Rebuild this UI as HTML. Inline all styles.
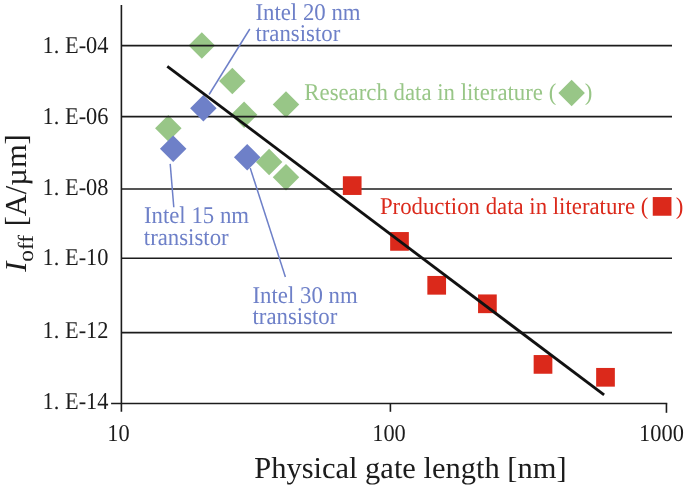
<!DOCTYPE html>
<html><head><meta charset="utf-8"><title>Ioff vs physical gate length</title>
<style>
html,body{margin:0;padding:0;background:#fff;}
svg{display:block;}
text{font-family:"Liberation Serif",serif;text-rendering:geometricPrecision;}
</style></head>
<body>
<svg width="685" height="487" viewBox="0 0 685 487">
<rect width="685" height="487" fill="#fff"/>
<g fill="#98c687">
<path d="M201.8,32.25 L215.05,45.5 L201.8,58.75 L188.55,45.5Z"/>
<path d="M232.3,67.75 L245.55,81.0 L232.3,94.25 L219.05,81.0Z"/>
<path d="M244.1,101.55 L257.35,114.8 L244.1,128.05 L230.85,114.8Z"/>
<path d="M286.0,91.35 L299.25,104.6 L286.0,117.85 L272.75,104.6Z"/>
<path d="M168.3,114.95 L181.55,128.2 L168.3,141.45 L155.05,128.2Z"/>
<path d="M269.1,148.65 L282.35,161.9 L269.1,175.15 L255.85,161.9Z"/>
<path d="M286.0,163.95 L299.25,177.2 L286.0,190.45 L272.75,177.2Z"/>
<path d="M571.6,79.75 L584.85,93.0 L571.6,106.25 L558.35,93.0Z"/>
</g>
<g stroke="#1c1c1c" stroke-width="1.6" fill="none">
<line x1="121.4" y1="45.65" x2="672" y2="45.65"/>
<line x1="121.4" y1="116.65" x2="672" y2="116.65"/>
<line x1="121.4" y1="189.0" x2="672" y2="189.0" stroke-width="1.7"/>
<line x1="121.4" y1="258.3" x2="672" y2="258.3"/>
<line x1="121.4" y1="332.65" x2="672" y2="332.65"/>
<line x1="111.1" y1="403.5" x2="667.25" y2="403.5"/>
<line x1="121.4" y1="5.1" x2="121.4" y2="411.8"/>
<line x1="390.4" y1="403.5" x2="390.4" y2="411.8"/>
<line x1="666.45" y1="403.5" x2="666.45" y2="412.8"/>
</g>
<g fill="#1c1c1c">
<text transform="translate(42.6,52.95) scale(0.925,1)" font-size="24.2">1. E-04</text>
<text transform="translate(42.6,123.7) scale(0.925,1)" font-size="24.2">1. E-06</text>
<text transform="translate(42.6,194.9) scale(0.925,1)" font-size="24.2">1. E-08</text>
<text transform="translate(42.6,264.85) scale(0.925,1)" font-size="24.2">1. E-10</text>
<text transform="translate(42.6,337.9) scale(0.925,1)" font-size="24.2">1. E-12</text>
<text transform="translate(42.6,408.65) scale(0.925,1)" font-size="24.2">1. E-14</text>
<text transform="translate(107.2,440.8) scale(0.925,1)" font-size="24.2">10</text>
<text transform="translate(372.2,440.8) scale(0.925,1)" font-size="24.2">100</text>
<text transform="translate(639.1,440.8) scale(0.925,1)" font-size="24.2">1000</text>
<text transform="translate(254.2,477.8) scale(1.003,1)" font-size="30.4">Physical gate length [nm]</text>
<g transform="translate(25.8,275) rotate(-90)">
<text transform="translate(3.2,0) scale(1.003,1)" font-size="30.4" font-style="italic">I</text>
<text transform="translate(13.3,7) scale(1.068,1)" font-size="21.8">off</text>
<text transform="translate(48.7,0) scale(1.003,1)" font-size="30.4">[A/µm]</text>
</g>
</g>
<g stroke="#6e80c8" stroke-width="1.5">
<line x1="249.8" y1="29" x2="209.1" y2="94.5"/>
<line x1="170.2" y1="163.9" x2="173.8" y2="207.3"/>
<line x1="250.2" y1="168" x2="285.4" y2="277"/>
</g>
<g fill="#6e80c8">
<path d="M203.4,94.95 L216.65,108.2 L203.4,121.45 L190.15,108.2Z"/>
<path d="M173.2,135.55 L186.45,148.8 L173.2,162.05 L159.95,148.8Z"/>
<path d="M247.2,143.95 L260.45,157.2 L247.2,170.45 L233.95,157.2Z"/>
</g>
<g fill="#db291b">
<rect x="342.85" y="176.25" width="18.7" height="18.7"/>
<rect x="390.15" y="232.05" width="18.7" height="18.7"/>
<rect x="427.35" y="275.95" width="18.7" height="18.7"/>
<rect x="478.05" y="294.45" width="18.7" height="18.7"/>
<rect x="533.65" y="355.05" width="18.7" height="18.7"/>
<rect x="596.15" y="367.95" width="18.7" height="18.7"/>
<rect x="652.75" y="197.05" width="18.7" height="18.7"/>
</g>
<line x1="167.3" y1="66.3" x2="604.1" y2="394.9" stroke="#111" stroke-width="2.85"/>
<g fill="#6e80c8">
<text transform="translate(255.4,19.9) scale(0.95,1)" font-size="24.0">Intel 20 nm</text>
<text transform="translate(255.4,41.3) scale(0.95,1)" font-size="24.0">transistor</text>
<text transform="translate(143.9,223.2) scale(0.95,1)" font-size="24.0">Intel 15 nm</text>
<text transform="translate(143.8,245.1) scale(0.95,1)" font-size="24.0">transistor</text>
<text transform="translate(252.5,303.1) scale(0.95,1)" font-size="24.0">Intel 30 nm</text>
<text transform="translate(252.5,324.1) scale(0.95,1)" font-size="24.0">transistor</text>
</g>
<g fill="#98c687">
<text transform="translate(304.3,99.7) scale(0.95,1)" font-size="24.0">Research data in literature (</text>
<text transform="translate(584.8,99.7) scale(0.95,1)" font-size="24.0">)</text>
</g>
<g fill="#db291b">
<text transform="translate(379.9,213.9) scale(0.95,1)" font-size="24.0">Production data in literature (</text>
<text transform="translate(675.7,213.9) scale(0.95,1)" font-size="24.0">)</text>
</g>
</svg>
</body></html>
